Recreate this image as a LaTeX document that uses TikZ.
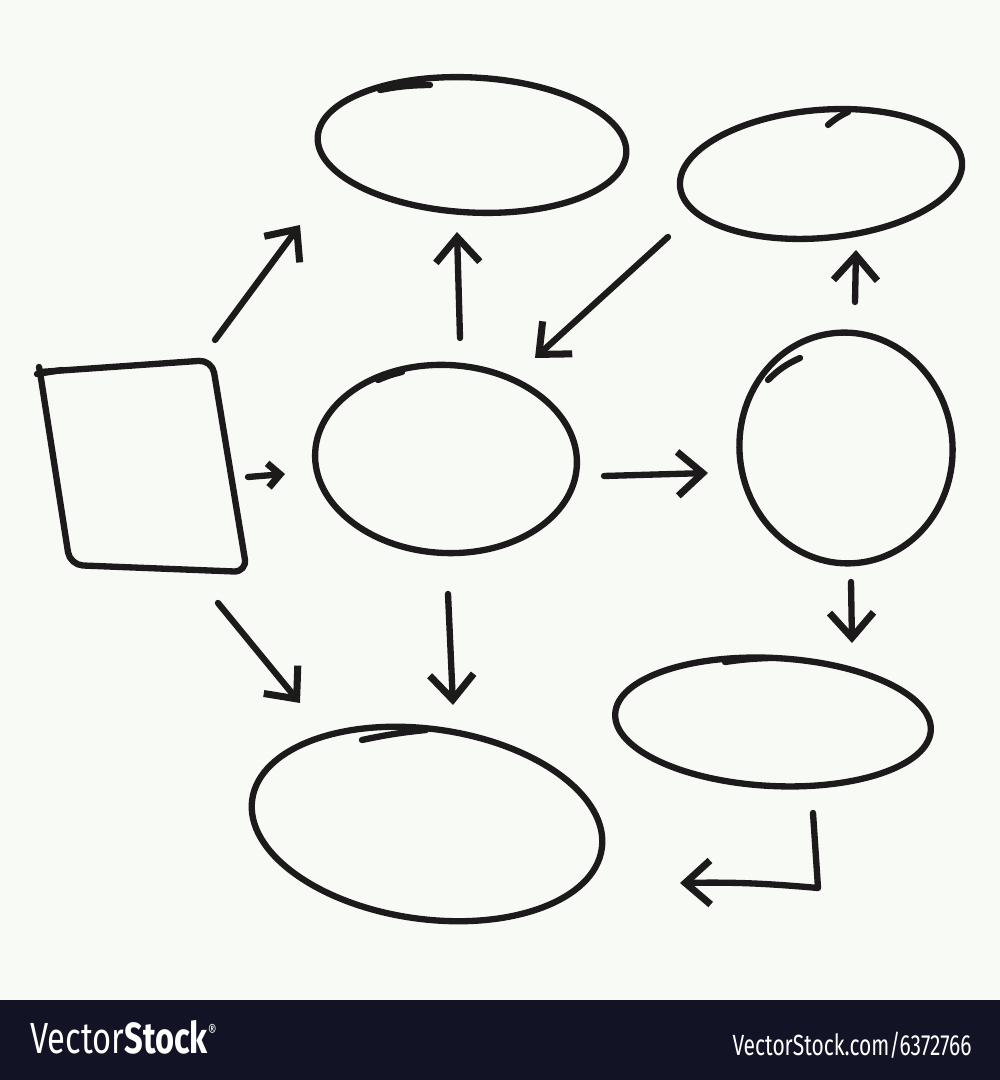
\documentclass[tikz,border=0pt]{standalone}
\usepackage{fontspec}
\setsansfont{Fira Sans}
\usetikzlibrary{arrows.meta,shapes.geometric}
\definecolor{paper}{RGB}{248,251,245}
\definecolor{ink}{RGB}{28,26,26}
\definecolor{barblue}{RGB}{18,20,38}
\tikzset{
  sketch/.style={draw=ink,line width=1.8pt,line cap=round,line join=round},
  blob/.style={sketch,ellipse,inner sep=0pt},
  flowarrow/.style={sketch,-{Straight Barb[length=2.5mm,width=4.4mm,line width=2pt]}},
  smallarrow/.style={sketch,-{Straight Barb[length=1.2mm,width=2.4mm,line width=2pt]}}
}
\begin{document}
\begin{tikzpicture}
% Background and bottom bar
\fill[paper] (0,0.8) rectangle (10,10.8);
\fill[barblue] (0,0) rectangle (10,0.8);
\useasboundingbox (0,0) rectangle (10,10.8);

% Box on the left
\coordinate (boxNW) at (0.40,7.08);
\coordinate (boxNE) at (2.12,7.20);
\coordinate (boxSE) at (2.47,5.08);
\coordinate (boxSW) at (0.70,5.15);
\draw[sketch,rounded corners=1.3mm] (boxNW) -- (boxNE) -- (boxSE) -- (boxSW) -- (boxNW);
\draw[sketch] (0.37,7.06) -- (0.62,7.10);
\draw[sketch] (0.40,7.08) -- (0.39,7.13);

% Ellipses
\node[blob,minimum width=3.09cm,minimum height=1.35cm,rotate=-3] (top) at (4.72,9.35) {};
\node[blob,minimum width=2.83cm,minimum height=1.28cm,rotate=5] (topright) at (8.21,9.06) {};
\node[blob,minimum width=2.62cm,minimum height=1.88cm,rotate=-3] (center) at (4.46,6.21) {};
\node[blob,minimum width=2.13cm,minimum height=2.31cm,rotate=6] (right) at (8.46,6.32) {};
\node[blob,minimum width=3.16cm,minimum height=1.28cm,rotate=-3] (bottomright) at (7.73,3.58) {};
\node[blob,minimum width=3.53cm,minimum height=1.90cm,rotate=-8] (bottom) at (4.27,2.56) {};

% Overlap strokes
\draw[sketch] (3.80,9.90) to[bend left=5] (4.30,9.95);
\draw[sketch] (8.28,9.55) to[bend left=8] (8.48,9.68);
\draw[sketch] (3.78,7.00) to[bend left=5] (4.02,7.08);
\draw[sketch] (7.68,7.00) to[bend left=10] (8.00,7.22);
\draw[sketch] (7.25,4.18) to[bend left=3] (7.70,4.22);
\draw[sketch] (3.62,3.40) to[bend left=3] (4.26,3.50);

% Arrow ends
\coordinate (a1) at (2.15,7.40); \coordinate (a2) at (3.00,8.55);
\coordinate (b1) at (4.60,7.42); \coordinate (b2) at (4.57,8.48);
\coordinate (c1) at (6.68,8.43); \coordinate (c2) at (5.35,7.22);
\coordinate (d1) at (2.48,6.03); \coordinate (d2) at (2.85,6.06);
\coordinate (e1) at (6.04,6.04); \coordinate (e2) at (7.08,6.07);
\coordinate (f1) at (8.55,7.78); \coordinate (f2) at (8.56,8.30);
\coordinate (g1) at (2.18,4.77); \coordinate (g2) at (3.00,3.77);
\coordinate (h1) at (4.48,4.86); \coordinate (h2) at (4.53,3.75);
\coordinate (i1) at (8.51,4.98); \coordinate (i2) at (8.52,4.37);
\coordinate (j1) at (8.13,2.67); \coordinate (j2) at (8.18,1.92); \coordinate (j3) at (6.80,1.97);

% Arrows
\foreach \s/\t in {a1/a2,b1/b2,c1/c2,e1/e2,f1/f2,g1/g2,h1/h2,i1/i2}
  \draw[flowarrow] (\s) -- (\t);
\draw[smallarrow] (d1) -- (d2);
\draw[flowarrow] (j1) -- (j2) to[bend right=3] (j3);

% Watermark
\node[anchor=west,text=white,font=\sffamily\fontsize{12.4}{12.4}\selectfont,xscale=0.75,transform shape,inner sep=0pt] (brand) at (0.30,0.43) {Vector\textbf{Stock}\textsuperscript{\tiny\textregistered}};
\node[anchor=east,text=white,font=\sffamily\fontsize{8.3}{8.3}\selectfont,xscale=0.72,transform shape,inner sep=0pt] (link) at (9.72,0.35) {VectorStock.com/6372766};
\end{tikzpicture}
\end{document}
